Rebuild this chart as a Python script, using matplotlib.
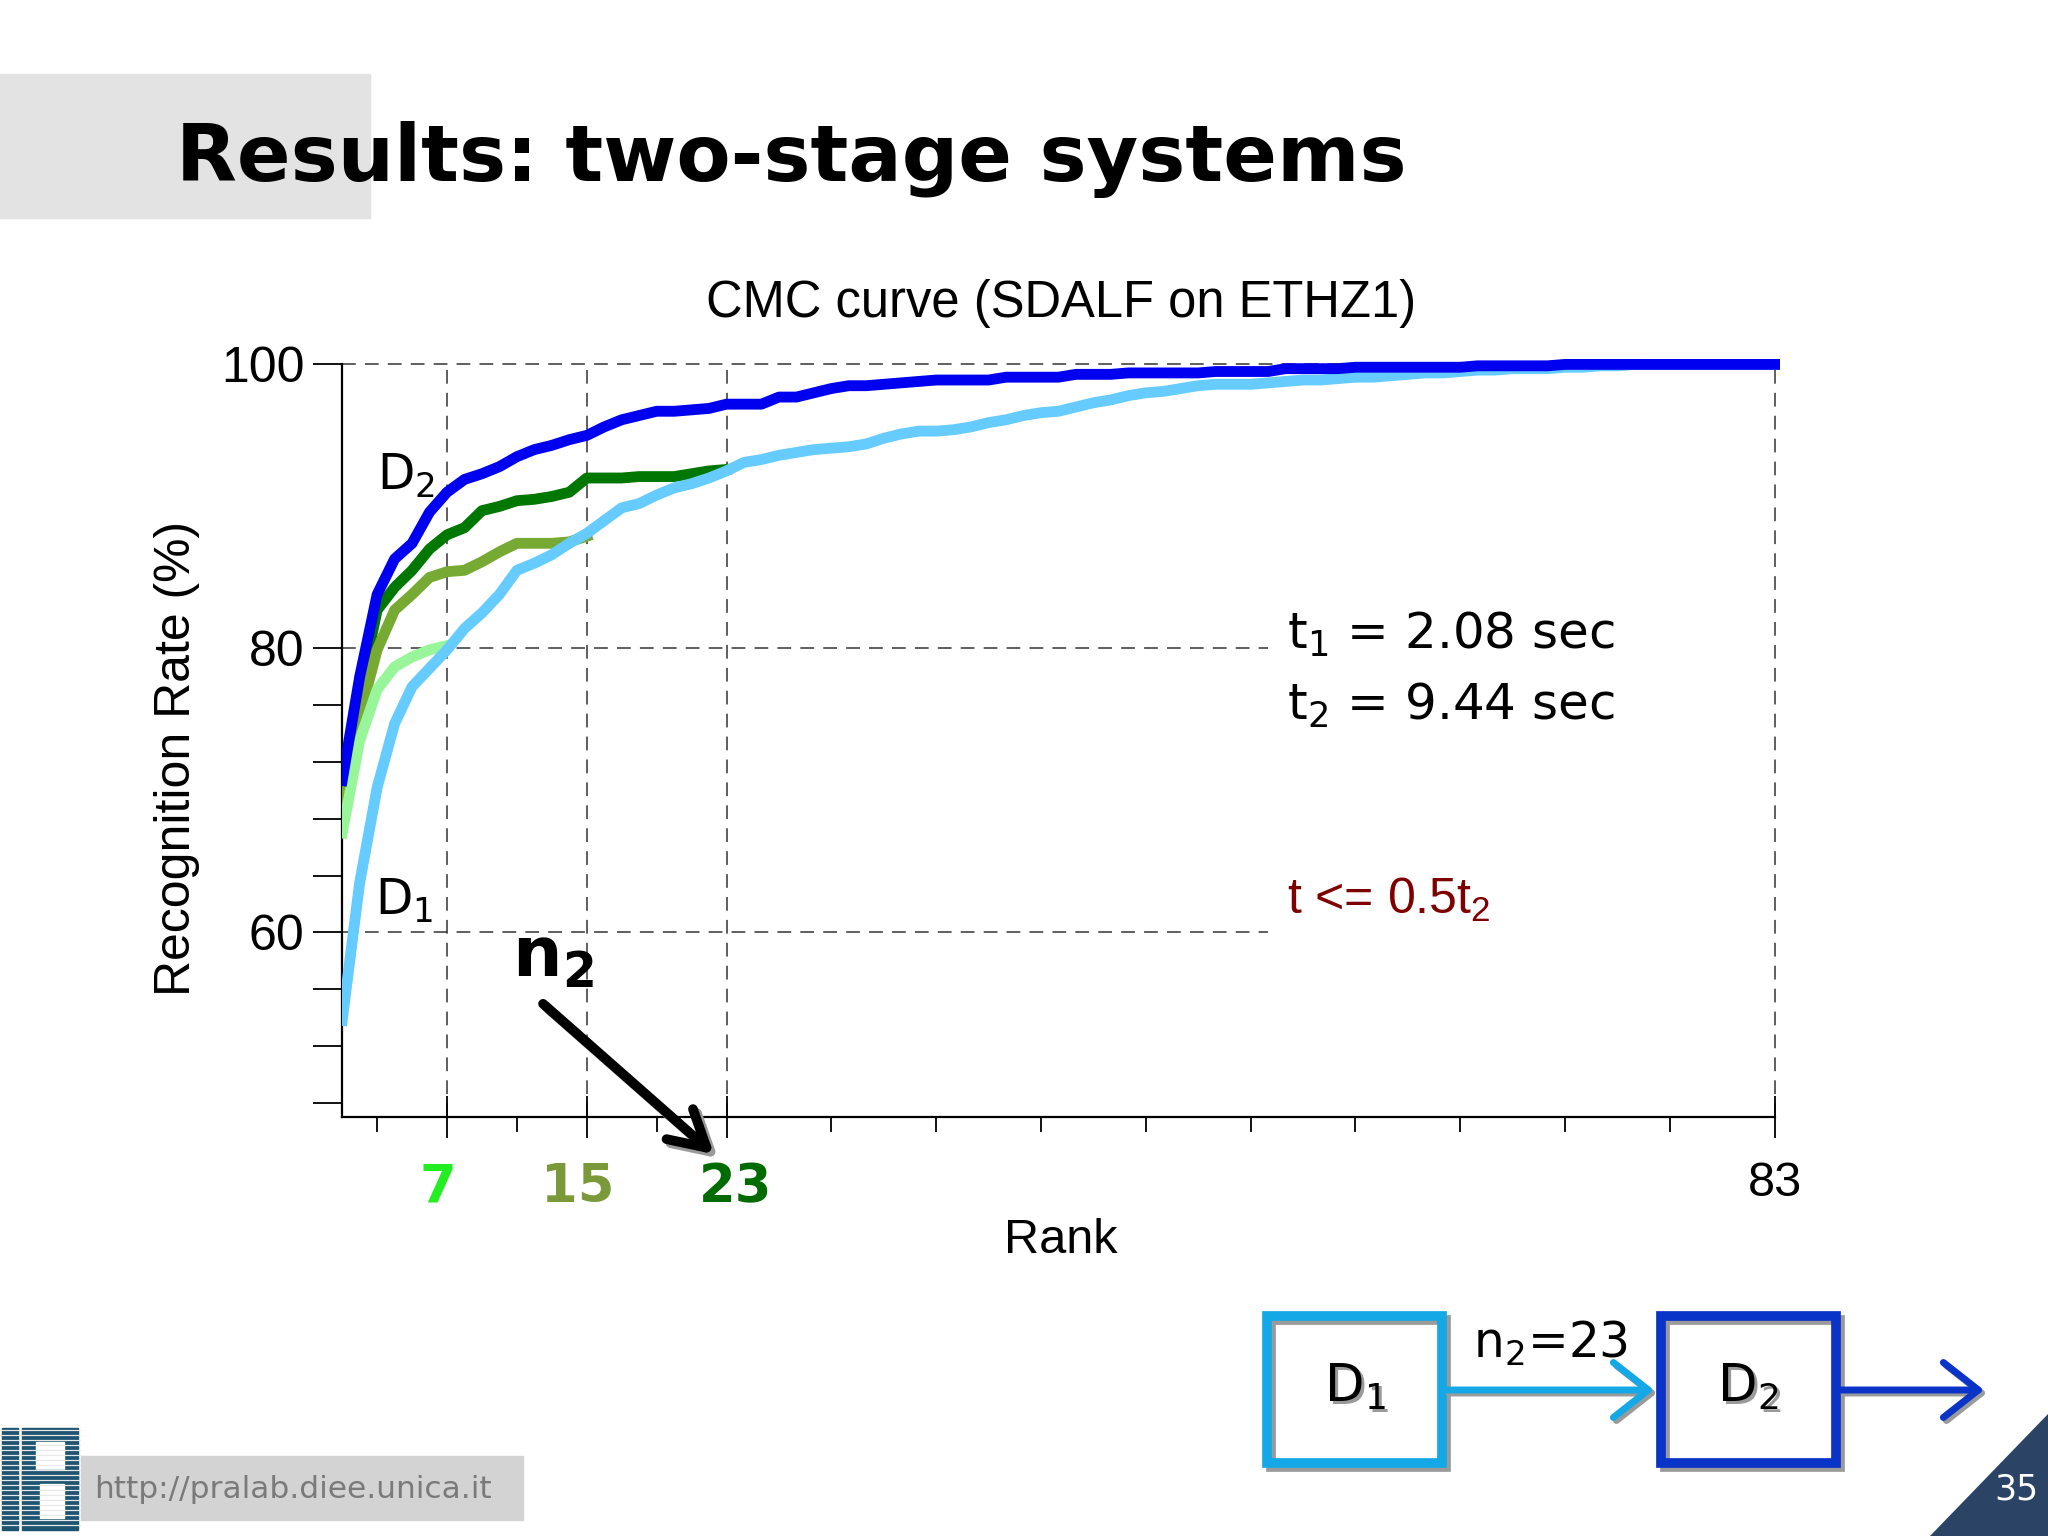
import numpy as np
import matplotlib.pyplot as plt
from matplotlib.patches import Rectangle, Polygon
from matplotlib.transforms import ScaledTranslation

# CMC curves (recognition rate in %)
ranks = np.arange(1, 84)
d2_rate = [70.7, 78.0, 83.8, 86.3, 87.4, 89.6, 91.0, 91.9, 92.3, 92.8,
           93.5, 94.0, 94.3, 94.7, 95.0, 95.6, 96.1, 96.4, 96.7, 96.7,
           96.8, 96.9, 97.2, 97.2, 97.2, 97.7, 97.7, 98.0, 98.3, 98.5,
           98.5, 98.6, 98.7, 98.8, 98.9, 98.9, 98.9, 98.9, 99.1, 99.1,
           99.1, 99.1, 99.3, 99.3, 99.3, 99.4, 99.4, 99.4, 99.4, 99.4,
           99.5, 99.5, 99.5, 99.5, 99.7, 99.7, 99.7, 99.7, 99.8, 99.8,
           99.8, 99.8, 99.8, 99.8, 99.8, 99.9, 99.9, 99.9, 99.9, 99.9,
           100, 100, 100, 100, 100, 100, 100, 100, 100, 100, 100, 100, 100]
d1_rate = [53.8, 63.5, 70.2, 74.7, 77.3, 78.6, 79.9, 81.4, 82.5, 83.8,
           85.5, 86.0, 86.6, 87.4, 88.1, 89.0, 89.9, 90.2, 90.8, 91.3,
           91.6, 92.0, 92.5, 93.1, 93.3, 93.6, 93.8, 94.0, 94.1, 94.2,
           94.4, 94.8, 95.1, 95.3, 95.3, 95.4, 95.6, 95.9, 96.1, 96.4,
           96.6, 96.7, 97.0, 97.3, 97.5, 97.8, 98.0, 98.1, 98.3, 98.5,
           98.6, 98.6, 98.6, 98.7, 98.8, 98.9, 98.9, 99.0, 99.1, 99.1,
           99.2, 99.3, 99.4, 99.4, 99.5, 99.6, 99.6, 99.7, 99.7, 99.7,
           99.8, 99.8, 99.9, 99.9, 100, 100, 100, 100, 100, 100, 100, 100, 100]
n7_rate = [67.0, 73.5, 77.1, 78.7, 79.4, 79.9, 80.2]
n15_rate = [68.5, 75.2, 79.9, 82.7, 83.8, 85.0, 85.4, 85.5, 86.1, 86.8,
            87.4, 87.4, 87.4, 87.5, 87.9]
n23_rate = [69.6, 76.8, 82.7, 84.3, 85.5, 87.0, 88.0, 88.5, 89.7, 90.0,
            90.4, 90.5, 90.7, 91.0, 92.0, 92.0, 92.0, 92.1, 92.1, 92.1,
            92.3, 92.5, 92.6]

major_x = [7, 15, 23, 83]
major_x_labels = ['7', '15', '23', '83']
minor_x = [3, 11, 19, 29, 35, 41, 47, 53, 59, 65, 71, 77]
major_y = [60, 80, 100]
minor_y = [48, 52, 56, 64, 68, 72, 76]

c_d2 = '#0000f0'
c_d1 = '#66ccff'
c_n7 = '#99f599'
c_n15 = '#77aa33'
c_n23 = '#007700'

W, H = 2048, 1536
fig = plt.figure(figsize=(W / 100, H / 100), dpi=100)

ax = fig.add_axes([342.2 / W, 1 - 1117.0 / H, 1437.8 / W, 766.8 / H])
ax.set_xlim(1, 83.3)
ax.set_ylim(47, 101)

dash = dict(color='#333333', lw=1.1, dashes=(9, 6), zorder=1)
ax.plot([1, 83], [100, 100], **dash)
ax.plot([1, 54], [80, 80], **dash)
ax.plot([1, 54], [60, 60], **dash)
for xv in major_x:
    ax.plot([xv, xv], [47, 100], **dash)

lw = 7.8
ax.plot(ranks[:23], n23_rate, color=c_n23, lw=lw, solid_joinstyle='round', zorder=3)
ax.plot(ranks[:15], n15_rate, color=c_n15, lw=lw, solid_joinstyle='round', zorder=3)
ax.plot(ranks[:7], n7_rate, color=c_n7, lw=lw, solid_joinstyle='round', zorder=3)
ax.plot(ranks, d1_rate, color=c_d1, lw=lw, solid_joinstyle='round', zorder=4)
ax.plot(ranks, d2_rate, color=c_d2, lw=lw, solid_joinstyle='round', zorder=5)

for s in ['top', 'right']:
    ax.spines[s].set_visible(False)
ax.spines['left'].set_bounds(47, 100)
ax.spines['bottom'].set_bounds(1, 83)
for s in ['left', 'bottom']:
    ax.spines[s].set_linewidth(1.6)

ax.set_yticks(major_y)
ax.set_yticks(minor_y, minor=True)
ax.set_yticklabels([str(v) for v in major_y], fontfamily='Liberation Sans', fontsize=36)
ax.tick_params(axis='y', which='both', direction='out', length=21, width=1.3, pad=6)

ax.set_xticks(major_x)
ax.set_xticks(minor_x, minor=True)
ax.set_xticklabels(major_x_labels)
ax.tick_params(axis='x', which='major', direction='inout', length=30, width=1.3, pad=17)
ax.tick_params(axis='x', which='minor', direction='out', length=11, width=1.3)
lab_colors = ['#22ee22', '#7a9a3a', '#006b00', 'black']
lab_shift = [-9, -9, 9, 0]
for lab, col, dx in zip(ax.get_xticklabels(), lab_colors, lab_shift):
    lab.set_color(col)
    if col == 'black':
        lab.set_fontfamily('Liberation Sans')
        lab.set_fontsize(35)
    else:
        lab.set_fontfamily('DejaVu Sans')
        lab.set_fontweight('bold')
        lab.set_fontsize(38)
    lab.set_transform(lab.get_transform() + ScaledTranslation(dx / 100, 0, fig.dpi_scale_trans))

ax.set_xlabel('Rank', fontfamily='Liberation Sans', fontsize=35, labelpad=3)
ax.set_ylabel('Recognition Rate (%)', fontfamily='Liberation Sans', fontsize=36)
ax.yaxis.set_label_coords(-0.099, 0.468)
ax.set_title('CMC curve (SDALF on ETHZ1)', fontfamily='Liberation Sans', fontsize=36.5, pad=24)

# slide overlay in pixel coordinates
ov = fig.add_axes([0, 0, 1, 1], zorder=10)
ov.set_xlim(0, W)
ov.set_ylim(H, 0)
ov.axis('off')
ov.patch.set_alpha(0)

ov.add_patch(Rectangle((0, 74), 370, 144, color='#e3e3e3', zorder=0))
ov.text(176, 181, 'Results: two-stage systems', fontsize=57, fontweight='bold',
        va='baseline', ha='left', color='black')

ov.text(377, 476, r'D$_\mathregular{2}$', fontsize=35, va='center', ha='left')
ov.text(375, 901, r'D$_\mathregular{1}$', fontsize=35, va='center', ha='left')
ov.text(512, 977, r'n$_\mathregular{2}$', fontsize=50, fontweight='bold', va='baseline', ha='left')

arrow_style = '->,head_length=0.8,head_width=0.45'
ov.annotate('', xy=(720, 1160), xytext=(545, 1006),
            arrowprops=dict(arrowstyle=arrow_style, lw=7, color='#999999', mutation_scale=32))
ov.annotate('', xy=(716, 1156), xytext=(541, 1002),
            arrowprops=dict(arrowstyle=arrow_style, lw=7, color='black', mutation_scale=32))

ov.text(1287, 634, r't$_\mathregular{1}$ = 2.08 sec', fontsize=36, va='center', ha='left')
ov.text(1287, 705, r't$_\mathregular{2}$ = 9.44 sec', fontsize=36, va='center', ha='left')
ov.text(1287, 900, r't <= 0.5t$_\mathregular{2}$', fontsize=36, va='center', ha='left',
        color='#7f0000', fontfamily='Liberation Sans')

# block diagram
for x0, col in [(1267, '#14a9e6'), (1661, '#0a34c8')]:
    ov.add_patch(Rectangle((x0 + 4, 1320), 175, 147, fill=False, lw=7,
                           edgecolor='#9a9a9a', zorder=1))
    ov.add_patch(Rectangle((x0, 1316), 175, 147, fill=False, lw=7,
                           edgecolor=col, zorder=2))
for xc, txt in [(1355, r'D$_\mathregular{1}$'), (1748, r'D$_\mathregular{2}$')]:
    ov.text(xc + 3, 1390, txt, fontsize=37, ha='center', va='center', color='#9a9a9a')
    ov.text(xc, 1387, txt, fontsize=37, ha='center', va='center', color='black')

box_arrow = '->,head_length=0.7,head_width=0.55'
for (xa, xb), col in [((1446, 1654), '#14a9e6'), ((1841, 1984), '#0a34c8')]:
    ov.annotate('', xy=(xb + 3, 1393), xytext=(xa + 3, 1393),
                arrowprops=dict(arrowstyle=box_arrow, lw=5, color='#9a9a9a',
                                mutation_scale=36, shrinkA=0, shrinkB=0))
    ov.annotate('', xy=(xb, 1390), xytext=(xa, 1390),
                arrowprops=dict(arrowstyle=box_arrow, lw=5, color=col,
                                mutation_scale=36, shrinkA=0, shrinkB=0))
ov.text(1473, 1343, r'n$_\mathregular{2}$=23', fontsize=35, va='center', ha='left')

# footer
ov.add_patch(Rectangle((81, 1456), 442, 64, color='#d3d3d3', zorder=0))
ov.text(94, 1489, 'http://pralab.diee.unica.it', fontsize=22.5, color='#7a7a7a',
        va='center', ha='left')

# logo (rough sketch)
teal = '#1d5470'
ov.add_patch(Rectangle((2, 1428), 16, 102, color=teal))
ov.add_patch(Rectangle((22, 1428), 56, 62, color=teal))
ov.add_patch(Rectangle((36, 1442), 28, 34, color='white'))
ov.add_patch(Rectangle((22, 1470), 56, 60, color=teal))
ov.add_patch(Rectangle((40, 1484), 24, 34, color='white'))
for yy in np.arange(1430, 1530, 5):
    ov.plot([0, 80], [yy, yy], color='#e8e8e8', lw=0.9)

# page number
ov.add_patch(Polygon([(1930, 1536), (2048, 1536), (2048, 1414)], closed=True, color='#2b4465'))
ov.text(2016, 1490, '35', fontsize=25, color='white', ha='center', va='center')

fig.savefig('out.png', dpi=100)
